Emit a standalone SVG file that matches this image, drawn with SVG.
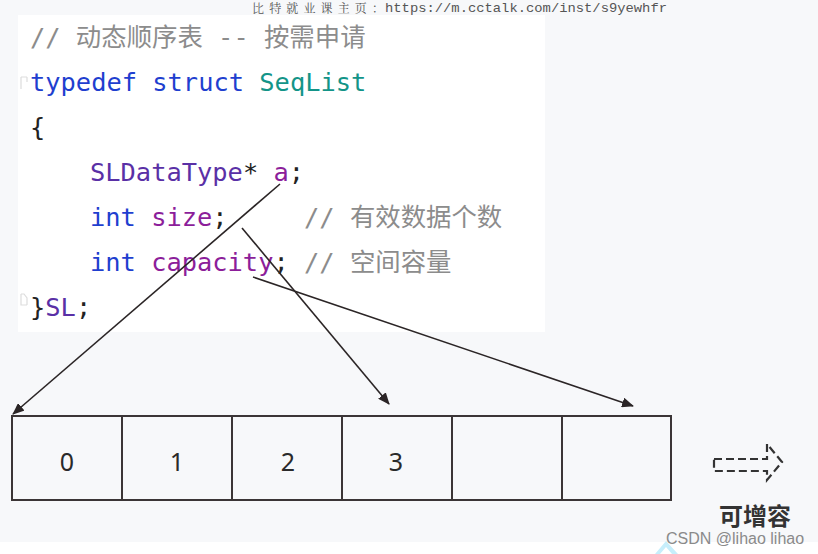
<svg xmlns="http://www.w3.org/2000/svg" width="818" height="554" viewBox="0 0 818 554">
<defs>
<style>
.code{font-family:"DejaVu Sans Mono","Noto Sans CJK SC",monospace;font-size:25.4px;fill:#222;white-space:pre}
.cm{fill:#8c8c8c}
.kw{fill:#1f3fcf}
.ty{fill:#139488}
.tp{fill:#5a30a6}
.fd{fill:#8c1e9a}
.num{font-family:"Noto Sans",sans-serif;font-size:25px;fill:#2a2a2a;text-anchor:middle}
.cell{fill:none;stroke:#3b3536;stroke-width:2}
.conn{stroke:#2b2526;stroke-width:1.6;fill:none;marker-end:url(#ah)}
</style>
<marker id="ah" viewBox="0 0 12 10" refX="11" refY="5" markerWidth="12" markerHeight="10" markerUnits="userSpaceOnUse" orient="auto">
<path d="M0,0 L12,5 L0,10 Z" fill="#2b2526"/>
</marker>
</defs>
<rect x="0" y="0" width="818" height="554" fill="#f7f8fa"/>
<rect x="0" y="542" width="818" height="12" fill="#ffffff"/>
<rect x="18" y="15" width="527" height="317" fill="#ffffff"/>
<g id="watermark-top">
<text x="252" y="13" font-family="'Noto Serif CJK SC','Noto Sans CJK SC',serif" font-size="12" fill="#555" textLength="132" lengthAdjust="spacing">比特就业课主页：</text>
<text x="385" y="12" font-family="'Liberation Mono',monospace" font-size="13" fill="#555" textLength="282" lengthAdjust="spacingAndGlyphs">https://m.cctalk.com/inst/s9yewhfr</text>
</g>
<g id="code">
<path d="M21,77 h6 M21,77 v12 M27,77 v5" stroke="#dddddd" stroke-width="1.2" fill="none"/>
<path d="M21,294 v11 h6 M21,294 h3 l3,4 v7" stroke="#dddddd" stroke-width="1.2" fill="none"/>
<text class="code cm" x="30" y="46" xml:space="preserve">// 动态顺序表 -- 按需申请</text>
<text class="code" x="30" y="91" xml:space="preserve"><tspan class="kw">typedef struct</tspan> <tspan class="ty">SeqList</tspan></text>
<text class="code" x="30" y="136">{</text>
<text class="code" x="90" y="181" xml:space="preserve"><tspan class="tp">SLDataType</tspan>* <tspan class="fd">a</tspan>;</text>
<text class="code" x="90" y="226" xml:space="preserve"><tspan class="kw">int</tspan> <tspan class="fd">size</tspan>;     <tspan class="cm">// 有效数据个数</tspan></text>
<text class="code" x="90" y="271" xml:space="preserve"><tspan class="kw">int</tspan> <tspan class="fd">capacity</tspan>; <tspan class="cm">// 空间容量</tspan></text>
<text class="code" x="30" y="316">}<tspan class="tp">SL</tspan>;</text>
</g>
<g id="array">
<g id="cell0"><rect class="cell" x="12" y="416" width="110" height="84"/><text class="num" x="67" y="471">0</text></g>
<g id="cell1"><rect class="cell" x="122" y="416" width="110" height="84"/><text class="num" x="177" y="471">1</text></g>
<g id="cell2"><rect class="cell" x="232" y="416" width="110" height="84"/><text class="num" x="288" y="471">2</text></g>
<g id="cell3"><rect class="cell" x="342" y="416" width="110" height="84"/><text class="num" x="396" y="471">3</text></g>
<g id="cell4"><rect class="cell" x="452" y="416" width="110" height="84"/></g>
<g id="cell5"><rect class="cell" x="562" y="416" width="109" height="84"/></g>
</g>
<g id="connectors">
<line class="conn" x1="280" y1="184" x2="13" y2="414"/>
<line class="conn" x1="242" y1="228" x2="389" y2="404"/>
<line class="conn" x1="253" y1="277" x2="633" y2="406"/>
</g>
<g id="grow">
<path d="M714,459 L767,459 L767,444 L782,462 L767,480 L767,471 L714,471 Z" fill="none" stroke="#333" stroke-width="2.2" stroke-dasharray="8,4"/>
<text x="755" y="525" font-family="'Noto Sans CJK SC',sans-serif" font-size="24" font-weight="bold" fill="#333" text-anchor="middle">可增容</text>
</g>
<g id="watermark-bottom">
<path d="M655,554 L666,541 L678,554 L672,554 L666,547 L660,554 Z" fill="#c6eefb"/>
<text x="666" y="544" font-family="'Liberation Sans',Arial,sans-serif" font-size="16" fill="#8a8a8a">CSDN @lihao lihao</text>
</g>
</svg>
